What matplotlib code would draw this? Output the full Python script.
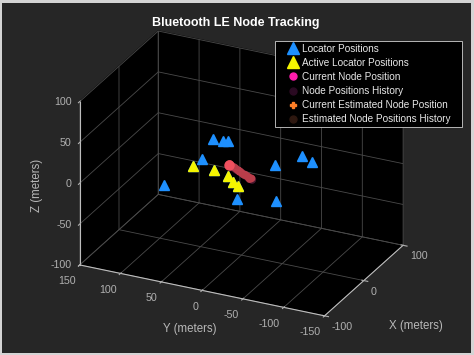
import matplotlib
matplotlib.use("Agg")
import matplotlib.pyplot as plt
from matplotlib.lines import Line2D
from matplotlib.patches import Rectangle

plt.rcParams['font.family'] = ['Liberation Sans', 'DejaVu Sans']
plt.rcParams['grid.color'] = '#4a4a4a'
plt.rcParams['grid.linewidth'] = 0.6
plt.rcParams['axes.edgecolor'] = '#4a4a4a'
plt.rcParams['axes.unicode_minus'] = False

# locator positions (meters)
loc_x = [-64, 9, 9, 31, 15, 36, 32, 42, -4, 10, -6, 14, 7, 5, 7]
loc_y = [64, 39, 27, 31, 55, -24, -59, -66, 3, -38, 57, 40, 20, 13, 8]
loc_z = [0, 30, 30, 20, 0, 0, 20, 10, -30, -30, 0, -10, -10, -15, -20]

# active locators
act_x = [-6, 14, 7, 5, 7]
act_y = [57, 40, 20, 13, 8]
act_z = [0, -10, -10, -15, -20]

# node track
node_x = [0, 2, 4, 6, 8, 10, 12, 14, 16, 18, 20, 22, 23]
node_y = [-13, -10, -6, -3, 0, 4, 7, 10, 14, 17, 20, 23, 26]
node_z = [-5, -5, -5, -5, -5, -5, -5, -5, -5, -5, -5, -5, -5]

est_x = [1, 2, 5, 6, 9, 10, 12, 15, 16, 18, 21, 22, 24]
est_y = [-12, -9, -6, -2, 1, 4, 8, 10, 13, 17, 21, 24, 26]
est_z = [-4, -6, -5, -4, -6, -5, -4, -6, -5, -4, -5, -6, -4]

cur_node = (23, 26, -5)
cur_est = (24, 26, -4)

x_ticks = [-100, 0, 100]
y_ticks = [-150, -100, -50, 0, 50, 100, 150]
z_ticks = [-100, -50, 0, 50, 100]

fig = plt.figure(figsize=(4.74, 3.55), dpi=100)
fig.patch.set_facecolor('#d4d4d4')
fig.add_artist(Rectangle((2 / 474, 2 / 355), 469 / 474, 350 / 355,
                         transform=fig.transFigure, facecolor='#262626',
                         edgecolor='none', zorder=-1))

ax = fig.add_axes([0.0, 0.039, 1.0, 0.92], projection='3d')
ax.set_facecolor('none')
ax.set_proj_type('ortho')
ax.view_init(elev=25.6, azim=-154.3)
ax.set_box_aspect((200, 300, 200), zoom=1.11)
ax.computed_zorder = False

for axis in (ax.xaxis, ax.yaxis, ax.zaxis):
    axis.set_pane_color((0, 0, 0, 1))
    axis.line.set_color('#bdbdbd')
    axis.line.set_linewidth(0.8)
    axis.set_rotate_label(False)

ax.plot(loc_x, loc_y, loc_z, linestyle='none', marker='^', ms=7.5,
        color='#1e90ff', mec='#1e90ff', zorder=3)
ax.plot(act_x, act_y, act_z, linestyle='none', marker='^', ms=7.5,
        color='#f5f500', mec='#f5f500', zorder=4)
ax.plot(node_x, node_y, node_z, color='#8a2a5a', lw=6, alpha=0.5,
        solid_capstyle='round', zorder=5)
ax.plot(est_x, est_y, est_z, color='#c8424e', lw=5.5, alpha=0.9,
        solid_capstyle='round', zorder=6)
ax.plot([cur_est[0]], [cur_est[1]], [cur_est[2]], linestyle='none',
        marker='P', ms=5, color='#d0484f', zorder=7)
ax.plot([cur_node[0]], [cur_node[1]], [cur_node[2]], linestyle='none',
        marker='o', ms=6.5, color='#f0505e', zorder=8)

ax.set_xlim(-100, 100)
ax.set_ylim(-150, 150)
ax.set_zlim(-100, 100)
ax.set_xticks(x_ticks)
ax.set_yticks(y_ticks)
ax.set_zticks(z_ticks)
ax.tick_params(colors='#b0b0b0', labelsize=7.7)
ax.tick_params(axis='x', pad=-4.5)
ax.tick_params(axis='y', pad=-2)
ax.tick_params(axis='z', pad=-5)
plt.setp(ax.get_xticklabels(), ha='left')
plt.setp(ax.get_yticklabels(), ha='right')
plt.setp(ax.get_zticklabels(), ha='right', va='center')

ax.set_xlabel('X (meters)', color='#b8b8b8', fontsize=8.3, rotation=0,
              labelpad=5)
ax.set_ylabel('Y (meters)', color='#b8b8b8', fontsize=8.3, rotation=0,
              labelpad=-1)
ax.set_zlabel('Z (meters)', color='#b8b8b8', fontsize=8.3, rotation=90,
              labelpad=-5)

fig.text(0.498, 1 - 23 / 355, 'Bluetooth LE Node Tracking', color='white',
         fontsize=9, fontweight='bold', ha='center', va='center')

handles = [
    Line2D([], [], linestyle='none', marker='^', ms=8, color='#1e90ff'),
    Line2D([], [], linestyle='none', marker='^', ms=8, color='#f5f500'),
    Line2D([], [], linestyle='none', marker='o', ms=5, color='#ff1cae'),
    Line2D([], [], linestyle='none', marker='o', ms=5, color='#2a0a22'),
    Line2D([], [], linestyle='none', marker='P', ms=5, color='#ff7f27'),
    Line2D([], [], linestyle='none', marker='o', ms=5, color='#2e1810'),
]
labels = ['Locator Positions', 'Active Locator Positions',
          'Current Node Position', 'Node Positions History',
          'Current Estimated Node Position', 'Estimated Node Positions History']
leg = fig.legend(handles, labels, loc='upper left', mode='expand',
                 bbox_to_anchor=(275 / 474, 1 - 41 / 355, 187 / 474, 0),
                 facecolor='black', edgecolor='#cfcfcf', framealpha=1,
                 fancybox=False, fontsize=7.2, labelcolor='#e8e8e8',
                 handlelength=3.0, handletextpad=-0.57, labelspacing=0.42,
                 borderpad=0.25, borderaxespad=0)
leg.get_frame().set_linewidth(0.6)

fig.savefig('out.png', dpi=100, facecolor=fig.get_facecolor())
